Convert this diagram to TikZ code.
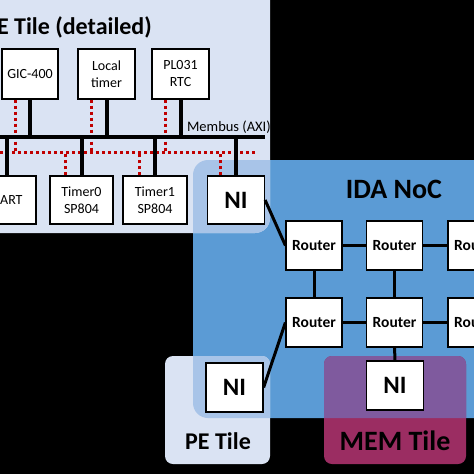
\documentclass[tikz,border=0pt]{standalone}
\usepackage{fontspec}
\setmainfont{Carlito}
\usetikzlibrary{positioning}
\definecolor{tilebg}{HTML}{DAE3F3}
\definecolor{nocblue}{HTML}{5B9BD5}
\definecolor{tilenoc}{HTML}{A8C4E8}
\definecolor{memtile}{HTML}{9B2D62}
\definecolor{memnoc}{HTML}{7F5A9E}
\definecolor{irqred}{HTML}{C00000}
\tikzset{
  unit/.style={draw=black, line width=1.2pt, fill=white, align=center, inner sep=0pt,
    minimum height=50pt, font=\fontsize{14}{17}\selectfont},
  nibox/.style={unit, minimum width=57pt, minimum height=49pt, font=\bfseries\fontsize{25}{27}\selectfont},
  router/.style={unit, minimum width=56pt, minimum height=49pt, font=\bfseries\fontsize{15.5}{17}\selectfont},
  bus/.style={line width=4pt},
  link/.style={line width=3pt},
  irq/.style={irqred, line width=3pt, dash pattern=on 3pt off 3pt},
  tilelabel/.style={font=\bfseries\fontsize{24}{26}\selectfont, inner sep=0pt},
  biglabel/.style={font=\bfseries\fontsize{28}{30}\selectfont, inner sep=0pt}
}
\begin{document}
\begin{tikzpicture}[x=1pt,y=-1pt]
        \useasboundingbox (0,0) rectangle (474,474);
        \clip (0,0) rectangle (474,474);
        \fill[black] (0,0) rectangle (474,474);

        %the noc and the tiles around it
        \fill[nocblue, rounded corners=15pt] (193,160) rectangle (520,418);
        \fill[tilebg, rounded corners=15pt] (-30,-20) rectangle (270,233);
        \fill[tilebg, rounded corners=8pt] (165,356) rectangle (270,464);
        \fill[memtile, rounded corners=8pt] (324,356) rectangle (466,464);
        \begin{scope}
            \clip[rounded corners=15pt] (193,160) rectangle (520,418);
            \fill[tilenoc, rounded corners=15pt] (-30,-20) rectangle (270,233);
            \fill[tilenoc, rounded corners=8pt] (165,356) rectangle (270,464);
            \fill[memnoc, rounded corners=8pt] (324,356) rectangle (466,464);
        \end{scope}

        \node[tilelabel, anchor=base east] (petitle) at (152,34) {PE Tile (detailed)};
        \node[biglabel, anchor=base] (noctitle) at (394,198) {IDA NoC};
        \node[tilelabel, anchor=base] (petile) at (218,449) {PE Tile};
        \node[biglabel, anchor=base] (memtitle) at (395,450) {MEM Tile};

        %peripherals of the detailed tile
        \node[unit, minimum width=56pt] (gic) at (30,74) {GIC-400};
        \node[unit, minimum width=57pt] (ltimer) at (106.5,74) {Local\\timer};
        \node[unit, minimum width=57pt] (rtc) at (180.5,74) {PL031\\RTC};
        \node[unit, minimum width=58pt, minimum height=48pt] (uart) at (7,200) {UART};
        \node[unit, minimum width=63pt, minimum height=48pt] (timer0) at (81.5,200) {Timer0\\SP804};
        \node[unit, minimum width=64pt, minimum height=48pt] (timer1) at (155,200) {Timer1\\SP804};
        \node[nibox, minimum height=48pt] (ni) at (236,200) {NI};

        \coordinate (busL) at (-30,137);
        \coordinate (busR) at (265,137);
        \coordinate (irqL) at (-30,152);
        \coordinate (irqR) at (257,152);
        \node[anchor=base east, inner sep=0pt, font=\fontsize{14.5}{16}\selectfont] (membus) at (271,131) {Membus (AXI)};

        \draw[irq] (irqL) -- (irqR);
        \foreach \n in {gic,ltimer,rtc}
            \draw[irq] ([xshift=-15pt]\n.south) -- ([xshift=-15pt]\n.south |- irqL);
        \foreach \n in {uart,timer0,timer1,ni}
            \draw[irq] ([xshift=-16pt]\n.north) -- ([xshift=-16pt]\n.north |- irqL);
        \draw[bus] (busL) -- (busR);
        \foreach \n in {gic,ltimer,rtc}
            \draw[bus] (\n.south) -- (\n.south |- busL);
        \foreach \n in {uart,timer0,timer1,ni}
            \draw[bus] (\n.north) -- (\n.north |- busL);

        %routers of the noc
        \node[router] (r11) at (314,245.5) {Router};
        \node[router] (r12) at (394.5,245.5) {Router};
        \node[router] (r13) at (476,245.5) {Router};
        \node[router] (r21) at (314,322.5) {Router};
        \node[router] (r22) at (394.5,322.5) {Router};
        \node[router] (r23) at (476,322.5) {Router};
        \node[nibox] (peni) at (234.5,387.5) {NI};
        \node[nibox] (memni) at (395,385.5) {NI};

        \draw[link] (r11) -- (r12) -- (r13);
        \draw[link] (r21) -- (r22) -- (r23);
        \draw[link] (r11) -- (r21);
        \draw[link] (r12) -- (r22);
        \draw[link] (r13) -- (r23);
        \draw[link] (ni.east) -- (r11.west);
        \draw[link] (peni.east) -- (r21.west);
        \draw[link] (r22) -- (memni);
\end{tikzpicture}
\end{document}
